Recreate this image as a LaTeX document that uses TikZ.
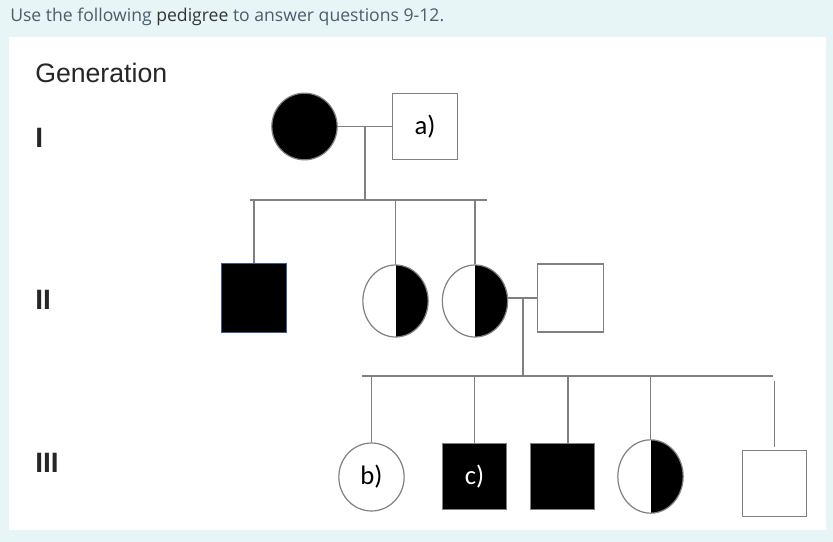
\documentclass[tikz,border=0pt]{standalone}
\usepackage{fontspec}
\setmainfont{Liberation Sans}
\newfontfamily\opensans{Open Sans}
\newfontfamily\carlito{Carlito}
\usepackage{tikz}
\usetikzlibrary{shapes.geometric}
\definecolor{pagebg}{HTML}{E7F5F7}
\definecolor{headtxt}{HTML}{4B5D6E}
\definecolor{linegray}{HTML}{808080}
\definecolor{edgeblue}{HTML}{3A5A9A}
\tikzset{
  person/.style={draw=linegray,line width=0.9pt,fill=white,inner sep=0pt,font=\carlito\fontsize{20}{20}\selectfont},
  male/.style={person,rectangle,minimum width=48.5pt,minimum height=50pt},
  female/.style={person,ellipse,minimum width=49pt,minimum height=51pt},
  affected/.style={fill=black,text=white},
  carrier/.style={female,minimum height=54pt,path picture={
      \fill[black] (path picture bounding box.north) rectangle (path picture bounding box.south east);}},
  link/.style={linegray,line width=1.1pt},
  gen/.style={anchor=base west,font=\bfseries\fontsize{21}{21}\selectfont,text=black!85}
}
\begin{document}
\begin{tikzpicture}[x=0.75pt,y=-0.75pt]
                \fill[pagebg] (0,0) rectangle (833,542);
                \useasboundingbox (0,0) rectangle (833,542);
                \fill[white] (9,37) rectangle (826,530);
                \node[anchor=west,inner sep=0pt,font=\opensans\fontsize{13.2}{13.2}\selectfont,text=headtxt] (title) at (10,17)
                    {Use the following \textcolor{black!80}{pedigree} to answer questions 9-12.};
                \node[anchor=base west,inner sep=0pt,font=\fontsize{20}{20}\selectfont,text=black!85] (genlabel) at (35,83) {Generation};
                \foreach \g/\y in {I/148,II/309,III/472} {
                    \node[gen,inner sep=0pt] (gen\g) at (35,\y) {\g};
                }
                % generation I
                \node[female,affected,minimum height=50pt] (I1) at (304.5,126.5) {};
                \node[male] (I2) at (425,126.5) {a)};
                \coordinate (m1) at (365,127);
                \coordinate (sib1) at (365,200);
                \draw[link] (I1) -- (I2);
                \draw[link] (m1) -- (sib1);
                \draw[link] (250,200) -- (487,200);
                % generation II
                \node[male,affected,draw=edgeblue,minimum height=52pt] (II1) at (254,298) {};
                \node[carrier] (II2) at (395.5,301) {};
                \node[carrier] (II3) at (475,301) {};
                \node[male,minimum width=50pt,minimum height=51pt] (II4) at (570.5,298) {};
                \foreach \n in {II1,II2,II3} {
                    \draw[link] (\n.north) -- (\n.north |- sib1);
                }
                \draw[link] (II3.east |- II4.west) -- (II4.west);
                \coordinate (m2) at (523,298);
                \coordinate (sib2) at (523,376);
                \draw[link] (m2) -- (sib2);
                \draw[link] (362,376) -- (773,376);
                % generation III
                \node[female,minimum height=51pt] (III1) at (371.5,477) {b)};
                \node[male,affected] (III2) at (474.5,476.5) {c)};
                \node[male,affected] (III3) at (562.5,476.5) {};
                \node[carrier,minimum height=55pt] (III4) at (650.5,476.5) {};
                \node[male] (III5) at (774.5,483.5) {};
                \foreach \n in {III1,III2,III4} {
                    \draw[link] (\n.north) -- (\n.north |- sib2);
                }
                \draw[link] ([xshift=4pt]III3.north) -- ([xshift=4pt]III3.north |- sib2);
                \draw[link,shorten <=2pt,shorten >=4pt] (III5.north) -- (III5.north |- sib2);
            \end{tikzpicture}
\end{document}
